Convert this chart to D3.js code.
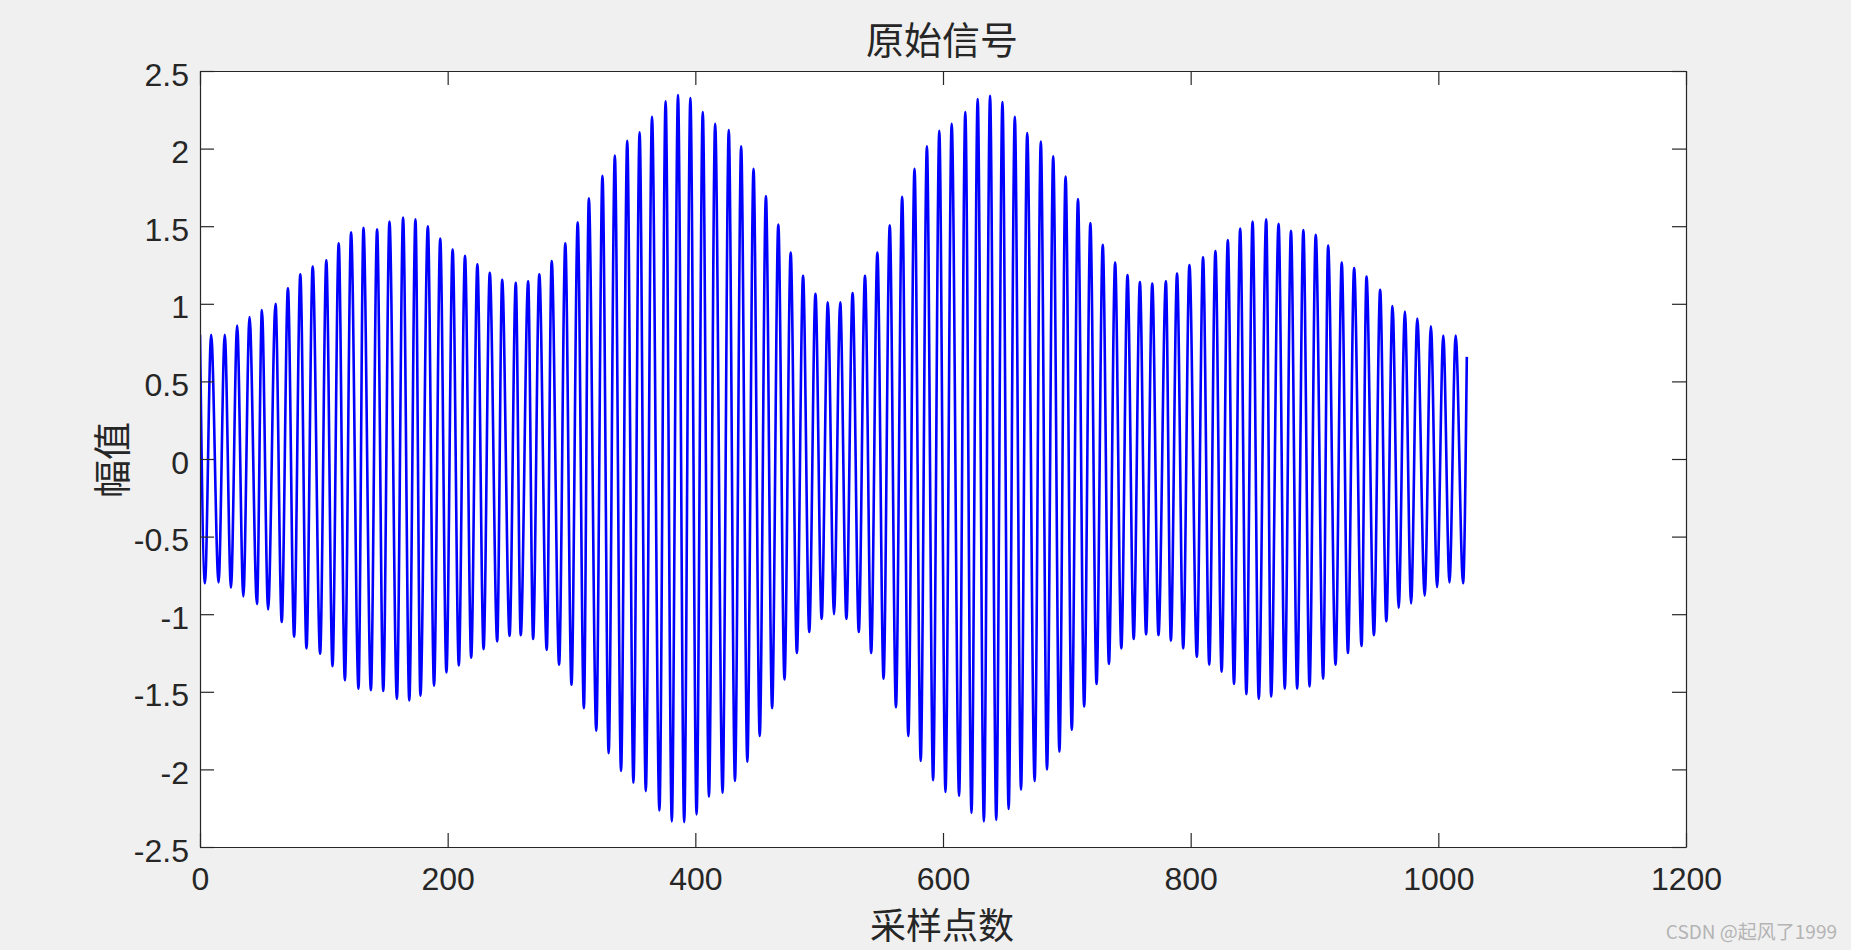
<!DOCTYPE html>
<html>
<head>
<meta charset="utf-8">
<script src="https://cdn.jsdelivr.net/npm/d3@7"></script>
<style>
  html, body { margin: 0; padding: 0; background: #f0f0f0; }
  svg { display: block; }
</style>
</head>
<body>
<svg id="chart" width="1851" height="950"></svg>
<script>
// ---------- data ----------
const titleText = "原始信号";
const xLabelText = "采样点数";
const yLabelText = "幅值";
const watermarkText = "CSDN @起风了1999";

const xTicks = [0, 200, 400, 600, 800, 1000, 1200];
const xTickLabels = ["0", "200", "400", "600", "800", "1000", "1200"];
const yTicks = [-2.5, -2, -1.5, -1, -0.5, 0, 0.5, 1, 1.5, 2, 2.5];
const yTickLabels = ["-2.5", "-2", "-1.5", "-1", "-0.5", "0", "0.5", "1", "1.5", "2", "2.5"];

// first and last samples of the signal
const startPoint = [0, 0.80];
const endPoint = [1023, 0.658];

// local maxima of the signal: sample index and amplitude
const peakIdx = [9, 20, 30, 40, 50, 61, 71, 81, 91, 102, 112, 122, 132, 143, 153, 164, 174, 184, 194,
  204, 214, 224, 234, 244, 255, 265, 274, 284, 295, 305, 314, 325, 335, 345, 355, 365, 376, 386, 396,
  406, 416, 427, 437, 447, 457, 467, 477, 487, 497, 507, 517, 527, 537, 547, 557, 567, 577, 587, 597,
  607, 618, 628, 638, 648, 658, 668, 679, 689, 699, 709, 719, 729, 739, 749, 759, 769, 780, 789, 799,
  810, 820, 830, 840, 850, 861, 871, 881, 891, 901, 911, 922, 932, 942, 953, 963, 973, 983, 994, 1004, 1014];
const peakVal = [0.80, 0.80, 0.86, 0.915, 0.96, 1.00, 1.10, 1.19, 1.24, 1.28, 1.39, 1.46, 1.49, 1.48, 1.53, 1.555, 1.545, 1.50, 1.42,
  1.35, 1.31, 1.255, 1.20, 1.155, 1.135, 1.145, 1.19, 1.275, 1.39, 1.525, 1.68, 1.825, 1.955, 2.05, 2.105, 2.205, 2.305, 2.345, 2.325,
  2.235, 2.16, 2.12, 2.015, 1.87, 1.695, 1.51, 1.33, 1.18, 1.065, 1.01, 1.01, 1.07, 1.18, 1.33, 1.505, 1.69, 1.87, 2.015, 2.115,
  2.16, 2.235, 2.32, 2.34, 2.30, 2.205, 2.10, 2.045, 1.95, 1.82, 1.675, 1.52, 1.38, 1.265, 1.185, 1.14, 1.13, 1.145, 1.195, 1.25,
  1.30, 1.34, 1.41, 1.485, 1.53, 1.545, 1.515, 1.47, 1.475, 1.445, 1.375, 1.265, 1.23, 1.175, 1.09, 0.985, 0.95, 0.905, 0.855, 0.795, 0.795];

// local minima of the signal: sample index and amplitude
const troughIdx = [4, 15, 25, 35, 46, 55, 66, 76, 86, 97, 107, 117, 128, 138, 148, 159, 169, 178, 189, 199,
  209, 219, 229, 240, 250, 259, 269, 280, 290, 300, 310, 320, 330, 340, 350, 360, 371, 381, 391, 401,
  411, 422, 432, 442, 452, 462, 472, 482, 492, 502, 512, 522, 532, 542, 552, 562, 572, 582, 592, 602,
  613, 623, 633, 643, 653, 663, 674, 684, 694, 704, 714, 724, 734, 744, 754, 764, 774, 784, 794, 805,
  815, 825, 835, 845, 855, 865, 876, 886, 896, 907, 917, 927, 938, 948, 958, 968, 978, 989, 999, 1009, 1020];
const troughVal = [-0.80, -0.795, -0.83, -0.885, -0.935, -0.97, -1.05, -1.145, -1.22, -1.255, -1.335, -1.425, -1.48, -1.49, -1.495, -1.545, -1.555, -1.525, -1.46, -1.375,
  -1.33, -1.28, -1.225, -1.175, -1.14, -1.135, -1.16, -1.23, -1.325, -1.455, -1.605, -1.75, -1.895, -2.01, -2.085, -2.14, -2.265, -2.335, -2.34, -2.29,
  -2.175, -2.15, -2.075, -1.95, -1.785, -1.605, -1.42, -1.25, -1.115, -1.03, -1.00, -1.03, -1.115, -1.25, -1.415, -1.60, -1.785, -1.945, -2.07, -2.145,
  -2.17, -2.28, -2.335, -2.325, -2.255, -2.13, -2.075, -2.00, -1.885, -1.745, -1.595, -1.45, -1.32, -1.22, -1.16, -1.13, -1.135, -1.17, -1.22, -1.275,
  -1.325, -1.37, -1.45, -1.515, -1.545, -1.53, -1.48, -1.48, -1.465, -1.415, -1.325, -1.25, -1.205, -1.135, -1.045, -0.96, -0.93, -0.88, -0.825, -0.795, -0.80];

// ---------- drawing ----------
const svg = d3.select("#chart");
const W = 1851, H = 950;
const plot = { left: 200, right: 1686, top: 71, bottom: 847 };
const axisColor = "#262626";
const numFont = "'Liberation Sans', Arial, Helvetica, sans-serif";
const cjkFont = "'Noto Sans CJK SC', 'Noto Sans', sans-serif";

svg.append("rect").attr("x", 0).attr("y", 0).attr("width", W).attr("height", H).attr("fill", "#f0f0f0");

const x = d3.scaleLinear().domain([0, 1200]).range([plot.left, plot.right]);
const y = d3.scaleLinear().domain([-2.5, 2.5]).range([plot.bottom, plot.top]);

// plot area
svg.append("rect")
  .attr("x", plot.left).attr("y", plot.top)
  .attr("width", plot.right - plot.left).attr("height", plot.bottom - plot.top)
  .attr("fill", "#ffffff");

svg.append("clipPath").attr("id", "clip")
  .append("rect")
  .attr("x", plot.left).attr("y", plot.top)
  .attr("width", plot.right - plot.left).attr("height", plot.bottom - plot.top);

// signal points: merge start, peaks, troughs, end and sort by sample index
const points = [startPoint]
  .concat(peakIdx.map((n, i) => [n, peakVal[i]]))
  .concat(troughIdx.map((n, i) => [n, troughVal[i]]))
  .concat([endPoint])
  .sort((a, b) => a[0] - b[0]);

const line = d3.line()
  .x(d => x(d[0]))
  .y(d => y(d[1]))
  .curve(d3.curveMonotoneX);

svg.append("path")
  .datum(points)
  .attr("clip-path", "url(#clip)")
  .attr("fill", "none")
  .attr("stroke", "#0000ff")
  .attr("stroke-width", 2.6)
  .attr("stroke-linejoin", "round")
  .attr("d", line);

// axes (MATLAB-style box with inward ticks)
const tickLen = 14;
const xFmt = (d) => xTickLabels[xTicks.indexOf(d)];
const yFmt = (d) => yTickLabels[yTicks.indexOf(d)];

function styleAxis(g) {
  g.selectAll("path.domain").attr("stroke", axisColor).attr("stroke-width", 1.2);
  g.selectAll(".tick line").attr("stroke", axisColor).attr("stroke-width", 1.2);
  g.selectAll(".tick text")
    .attr("fill", axisColor)
    .style("font-family", numFont)
    .style("font-size", "32px");
}

// bottom axis
const gBottom = svg.append("g")
  .attr("transform", `translate(0,${plot.bottom})`)
  .call(d3.axisBottom(x).tickValues(xTicks).tickFormat(xFmt).tickSizeInner(-tickLen).tickSizeOuter(0).tickPadding(0));
styleAxis(gBottom);
gBottom.selectAll(".tick text").attr("y", 43).attr("dy", null);

// top axis
const gTop = svg.append("g")
  .attr("transform", `translate(0,${plot.top})`)
  .call(d3.axisTop(x).tickValues(xTicks).tickFormat("").tickSizeInner(-tickLen).tickSizeOuter(0));
styleAxis(gTop);

// left axis
const gLeft = svg.append("g")
  .attr("transform", `translate(${plot.left},0)`)
  .call(d3.axisLeft(y).tickValues(yTicks).tickFormat(yFmt).tickSizeInner(-tickLen).tickSizeOuter(0).tickPadding(0));
styleAxis(gLeft);
gLeft.selectAll(".tick text").attr("x", -11).attr("dy", null).attr("y", 14).attr("text-anchor", "end");

// right axis
const gRight = svg.append("g")
  .attr("transform", `translate(${plot.right},0)`)
  .call(d3.axisRight(y).tickValues(yTicks).tickFormat("").tickSizeInner(-tickLen).tickSizeOuter(0));
styleAxis(gRight);

// title and labels
svg.append("text")
  .attr("x", 942).attr("y", 54)
  .attr("text-anchor", "middle")
  .attr("fill", axisColor)
  .style("font-family", cjkFont)
  .style("font-size", "38px")
  .text(titleText);

svg.append("text")
  .attr("x", 942).attr("y", 939)
  .attr("text-anchor", "middle")
  .attr("fill", axisColor)
  .style("font-family", cjkFont)
  .style("font-size", "36px")
  .text(xLabelText);

svg.append("text")
  .attr("transform", "translate(126,460) rotate(-90)")
  .attr("text-anchor", "middle")
  .attr("fill", axisColor)
  .style("font-family", cjkFont)
  .style("font-size", "38px")
  .text(yLabelText);

svg.append("text")
  .attr("x", 1837).attr("y", 939)
  .attr("text-anchor", "end")
  .attr("fill", "#b4b4b4")
  .style("font-family", cjkFont)
  .style("font-size", "19px")
  .text(watermarkText);
</script>
</body>
</html>
